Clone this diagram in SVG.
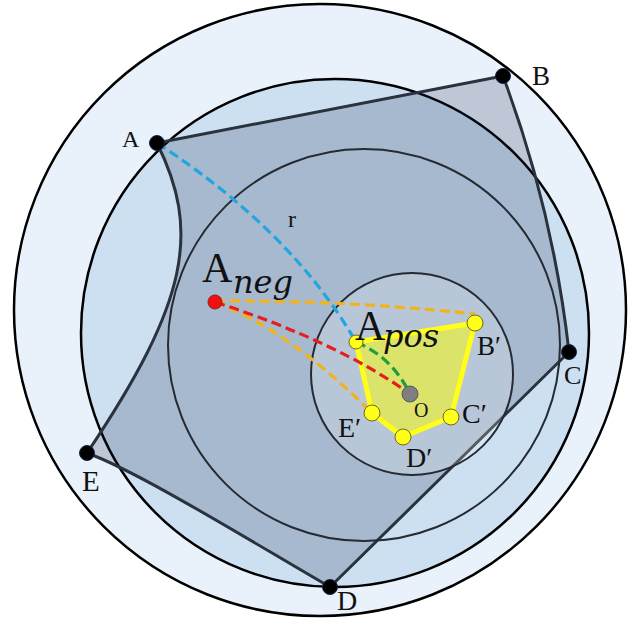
<svg xmlns="http://www.w3.org/2000/svg" width="641" height="624" viewBox="0 0 641 624">
  <defs>
    <style>
      .ring { stroke: #000; stroke-width: 2.5; }
      .ring2 { fill: none; stroke: #252a33; stroke-width: 2; }
      .poly { fill: #0d2045; fill-opacity: 0.2; stroke: #2a323e; stroke-width: 3; stroke-linejoin: round; }
      .vtx { fill: #000; stroke: #16264a; stroke-width: 1; }
      .ydot { fill: #ffff1a; stroke: #6a6a20; stroke-width: 1; }
      .lbl { font-family: "Liberation Serif", "Times New Roman", serif; fill: #111; }
      .sub { font-family: "DejaVu Serif", "Liberation Serif", serif; font-style: italic; fill: #111; }
      .dash { fill: none; stroke-width: 3.2; stroke-dasharray: 10 5; }
    </style>
  </defs>
  <rect width="641" height="624" fill="#ffffff"/>

  <g id="circles">
    <circle cx="320" cy="310" r="306" class="ring" fill="#e9f2fa"/>
    <circle cx="335" cy="333" r="254" class="ring" fill="#cde0f1"/>
  </g>

  <g id="polygon">
    <path class="poly" d="M157,143 L503,76 Q553,210 569,352 L330,587 C262,548 140,472 87,453 C190,300 200,230 157,143 Z"/>
  </g>

  <g id="inner-circles">
    <circle cx="364" cy="345" r="196" class="ring2"/>
    <circle cx="412" cy="374" r="101" class="ring2" style="fill:#ffffff;fill-opacity:0.2"/>
  </g>

  <g id="pos-polygon">
    <path d="M356,342 L475,323 L451,417 L403,437 L372,413 Z" fill="#ffff00" fill-opacity="0.5" stroke="#ffff1a" stroke-width="5" stroke-linejoin="round"/>
  </g>

  <g id="connectors">
    <path class="dash" stroke="#22a6e0" d="M157,143 Q292,231 356,342"/>
    <path class="dash" stroke="#f2b21c" d="M215,301 Q345,300 475,314"/>
    <path class="dash" stroke="#f2b21c" d="M215,302 Q289,330 372,413"/>
    <path class="dash" stroke="#e41f1f" d="M215,302 Q338,342 410,394"/>
    <path class="dash" stroke="#1f9e3c" d="M356,342 Q392,357 410,394"/>
  </g>

  <g id="node-A"><circle class="vtx" cx="157" cy="143" r="7.5"/><text class="lbl" x="122" y="147" font-size="24">A</text></g>
  <g id="node-B"><circle class="vtx" cx="503" cy="76" r="7.5"/><text class="lbl" x="532" y="85" font-size="27">B</text></g>
  <g id="node-C"><circle class="vtx" cx="569" cy="352" r="7.5"/><text class="lbl" x="564" y="384" font-size="26">C</text></g>
  <g id="node-D"><circle class="vtx" cx="330" cy="587" r="7.5"/><text class="lbl" x="337" y="610" font-size="28">D</text></g>
  <g id="node-E"><circle class="vtx" cx="87" cy="453" r="7.5"/><text class="lbl" x="82" y="491" font-size="29">E</text></g>

  <g id="node-Aneg">
    <circle cx="215" cy="302" r="7" fill="#ee1111" stroke="#a01818" stroke-width="1"/>
    <text class="lbl" x="202" y="282" font-size="42">A</text>
    <text class="sub" x="233" y="293" font-size="32">neg</text>
  </g>

  <g id="node-Bp"><circle class="ydot" cx="475" cy="323" r="8"/><text class="lbl" x="477" y="355" font-size="27">B′</text></g>
  <g id="node-Cp"><circle class="ydot" cx="451" cy="417" r="8"/><text class="lbl" x="462" y="423" font-size="28">C′</text></g>
  <g id="node-Dp"><circle class="ydot" cx="403" cy="437" r="8"/><text class="lbl" x="406" y="467" font-size="28">D′</text></g>
  <g id="node-Ep"><circle class="ydot" cx="372" cy="413" r="8"/><text class="lbl" x="338" y="437" font-size="28">E′</text></g>
  <g id="node-O"><circle cx="410" cy="394" r="8" fill="#7f7f7f" stroke="#5a5a5a" stroke-width="1"/><text class="lbl" x="414" y="417" font-size="20">O</text></g>

  <g id="node-Apos">
    <circle class="ydot" cx="356" cy="342" r="7"/>
    <text class="lbl" x="355" y="340" font-size="42">A</text>
    <text class="sub" x="383" y="347" font-size="32">pos</text>
  </g>

  <g id="label-r"><text class="lbl" x="288" y="227" font-size="24">r</text></g>
</svg>
